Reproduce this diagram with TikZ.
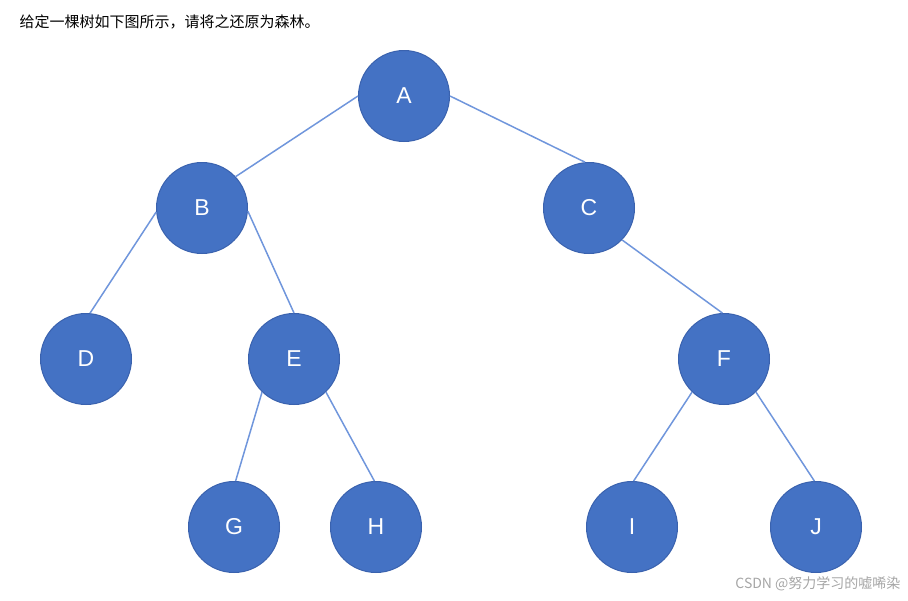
\documentclass[tikz,border=0pt]{standalone}
\usepackage{fontspec}
\setmainfont{Liberation Sans}
\newfontfamily\cjk{Noto Sans CJK SC}
\definecolor{nodefill}{HTML}{4472C4}
\definecolor{nodeedge}{HTML}{3A62AE}
\definecolor{edgecol}{HTML}{7096DC}
\begin{document}
\begin{tikzpicture}[x=1pt,y=-1pt,
  tn/.style={circle,minimum size=91pt,inner sep=0pt,fill=nodefill,draw=nodeedge,line width=1pt,text=white,font=\fontsize{23}{23}\selectfont},
  ed/.style={draw=edgecol,line width=1.5pt}]
\useasboundingbox (0,0) rectangle (908,600);
\node[anchor=west,font=\cjk\fontsize{15}{15}\selectfont] (title) at (16,22) {给定一棵树如下图所示，请将之还原为森林。};
\node[tn] (A) at (404,96) {A};
\node[tn] (B) at (202,208) {B};
\node[tn] (C) at (589,208) {C};
\node[tn] (D) at (86,359) {D};
\node[tn] (E) at (294,359) {E};
\node[tn] (F) at (724,359) {F};
\node[tn] (G) at (234,527) {G};
\node[tn] (H) at (376,527) {H};
\node[tn] (I) at (632,527) {I};
\node[tn] (J) at (816,527) {J};
\draw[ed] (A.180) -- (B.43);
\draw[ed] (A.0) -- (C.95);
\draw[ed] (B.185) -- (D.85);
\draw[ed] (B.-4) -- (E.90);
\draw[ed] (C.-44) -- (F.92);
\draw[ed] (E.226) -- (G.88);
\draw[ed] (E.314) -- (H.92);
\draw[ed] (F.226) -- (I.88);
\draw[ed] (F.314) -- (J.92);
\node[anchor=east,text=black!35,font=\cjk\fontsize{14}{14}\selectfont] (wm) at (904,584) {CSDN @努力学习的嘘唏染};
\end{tikzpicture}
\end{document}
